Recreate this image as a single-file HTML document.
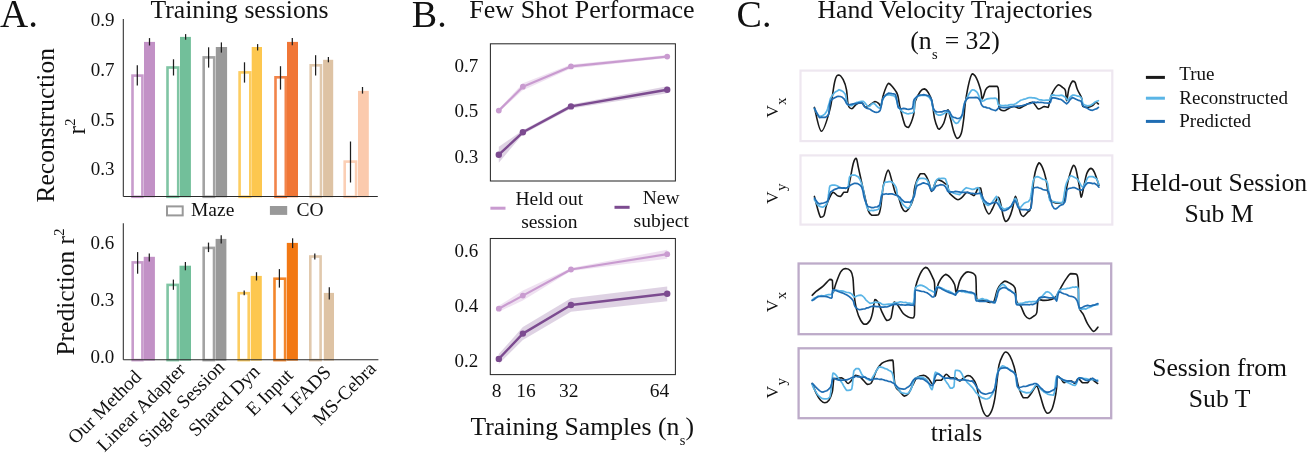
<!DOCTYPE html>
<html><head><meta charset="utf-8"><style>
html,body{margin:0;padding:0;background:#fff;width:1309px;height:454px;overflow:hidden}
svg{display:block;font-family:"Liberation Serif", serif;will-change:transform}
</style></head><body>
<svg width="1309" height="454" viewBox="0 0 1309 454">
<rect width="1309" height="454" fill="#fff"/>
<text x="0.10" y="26.70" font-size="39" text-anchor="start" fill="#111" >A.</text>
<text x="239.50" y="18.20" font-size="25.7" text-anchor="middle" fill="#111" >Training sessions</text>
<line x1="123.3" y1="19.1" x2="123.3" y2="196.5" stroke="#2a2a2a" stroke-width="1.05"/>
<text x="102.60" y="25.60" font-size="19" text-anchor="middle" fill="#111" >0.9</text>
<text x="102.60" y="75.50" font-size="19" text-anchor="middle" fill="#111" >0.7</text>
<text x="102.60" y="126.10" font-size="19" text-anchor="middle" fill="#111" >0.5</text>
<text x="102.60" y="174.80" font-size="19" text-anchor="middle" fill="#111" >0.3</text>
<rect x="132.50" y="75.60" width="9.90" height="121.20" fill="#fff" stroke="#c89ccc" stroke-width="2.6"/>
<rect x="167.50" y="67.50" width="10.70" height="129.30" fill="#fff" stroke="#80c5a4" stroke-width="2.6"/>
<rect x="203.70" y="57.40" width="10.50" height="139.40" fill="#fff" stroke="#a3a3a3" stroke-width="2.6"/>
<rect x="239.60" y="72.40" width="10.70" height="124.40" fill="#fff" stroke="#fdcd61" stroke-width="2.6"/>
<rect x="275.50" y="77.30" width="10.30" height="119.50" fill="#fff" stroke="#f2844a" stroke-width="2.6"/>
<rect x="310.70" y="65.30" width="10.30" height="131.50" fill="#fff" stroke="#e1c9ad" stroke-width="2.6"/>
<rect x="344.70" y="161.60" width="11.40" height="35.20" fill="#fff" stroke="#fbcfb5" stroke-width="2.6"/>
<rect x="144.00" y="41.90" width="11.00" height="155.40" fill="#c291c6"/>
<rect x="180.00" y="36.90" width="10.90" height="160.40" fill="#72bf9a"/>
<rect x="215.80" y="47.00" width="11.30" height="150.30" fill="#999999"/>
<rect x="251.70" y="47.00" width="10.30" height="150.30" fill="#fdc74f"/>
<rect x="287.00" y="41.90" width="11.00" height="155.40" fill="#f07636"/>
<rect x="323.10" y="59.80" width="10.10" height="137.50" fill="#dec3a4"/>
<rect x="358.00" y="90.90" width="10.80" height="106.40" fill="#fbcaad"/>
<line x1="137.3" y1="65.3" x2="137.3" y2="85.5" stroke="#1e1e1e" stroke-width="1.25"/>
<line x1="173.5" y1="59.3" x2="173.5" y2="75.5" stroke="#1e1e1e" stroke-width="1.25"/>
<line x1="208.6" y1="47.3" x2="208.6" y2="67.6" stroke="#1e1e1e" stroke-width="1.25"/>
<line x1="244.5" y1="62.3" x2="244.5" y2="82.6" stroke="#1e1e1e" stroke-width="1.25"/>
<line x1="280.5" y1="66.2" x2="280.5" y2="89.6" stroke="#1e1e1e" stroke-width="1.25"/>
<line x1="315.6" y1="55.2" x2="315.6" y2="75.5" stroke="#1e1e1e" stroke-width="1.25"/>
<line x1="350.5" y1="141.5" x2="350.5" y2="182.5" stroke="#1e1e1e" stroke-width="1.25"/>
<line x1="149.5" y1="38.1" x2="149.5" y2="45.5" stroke="#1e1e1e" stroke-width="1.25"/>
<line x1="185.6" y1="34.1" x2="185.6" y2="39.7" stroke="#1e1e1e" stroke-width="1.25"/>
<line x1="221.4" y1="42.4" x2="221.4" y2="52.6" stroke="#1e1e1e" stroke-width="1.25"/>
<line x1="257.6" y1="44.1" x2="257.6" y2="50.5" stroke="#1e1e1e" stroke-width="1.25"/>
<line x1="292.3" y1="38.1" x2="292.3" y2="45.2" stroke="#1e1e1e" stroke-width="1.25"/>
<line x1="328.4" y1="57.0" x2="328.4" y2="62.3" stroke="#1e1e1e" stroke-width="1.25"/>
<line x1="362.5" y1="87.0" x2="362.5" y2="93.6" stroke="#1e1e1e" stroke-width="1.25"/>
<line x1="123.3" y1="196.5" x2="377.8" y2="196.5" stroke="#2a2a2a" stroke-width="1.05"/>
<rect x="167" y="206.4" width="15.7" height="9" fill="none" stroke="#999" stroke-width="2"/>
<text x="191.00" y="216.00" font-size="19.5" text-anchor="start" fill="#111" >Maze</text>
<rect x="269.9" y="206" width="17.3" height="8.9" fill="#999"/>
<text x="296.50" y="216.00" font-size="19.5" text-anchor="start" fill="#111" >CO</text>
<g transform="translate(53.8,125.3) rotate(-90)"><text x="0" y="0" font-size="25.5" text-anchor="middle" fill="#111">Reconstruction</text></g>
<g transform="translate(84.7,126.6) rotate(-90)"><text x="0" y="0" font-size="25.5" text-anchor="middle" fill="#111">r<tspan font-size="15" dy="-10">2</tspan></text></g>
<line x1="123.3" y1="223.2" x2="123.3" y2="359.8" stroke="#2a2a2a" stroke-width="1.05"/>
<text x="102.40" y="249.00" font-size="19" text-anchor="middle" fill="#111" >0.6</text>
<text x="102.40" y="306.00" font-size="19" text-anchor="middle" fill="#111" >0.3</text>
<text x="102.40" y="362.80" font-size="19" text-anchor="middle" fill="#111" >0.0</text>
<rect x="132.70" y="262.40" width="9.70" height="97.70" fill="#fff" stroke="#c89ccc" stroke-width="2.6"/>
<rect x="167.60" y="284.90" width="10.30" height="75.20" fill="#fff" stroke="#80c5a4" stroke-width="2.6"/>
<rect x="203.70" y="247.90" width="10.30" height="112.20" fill="#fff" stroke="#a3a3a3" stroke-width="2.6"/>
<rect x="238.70" y="293.20" width="10.00" height="66.90" fill="#fff" stroke="#fdcd61" stroke-width="2.6"/>
<rect x="274.50" y="278.70" width="10.60" height="81.40" fill="#fff" stroke="#f3862b" stroke-width="2.6"/>
<rect x="310.30" y="256.50" width="10.30" height="103.60" fill="#fff" stroke="#e1c9ad" stroke-width="2.6"/>
<rect x="143.70" y="256.80" width="11.20" height="103.80" fill="#c291c6"/>
<rect x="179.50" y="265.70" width="11.50" height="94.90" fill="#72bf9a"/>
<rect x="215.60" y="238.90" width="10.80" height="121.70" fill="#999999"/>
<rect x="250.70" y="275.90" width="11.10" height="84.70" fill="#fdc74f"/>
<rect x="286.80" y="242.90" width="11.10" height="117.70" fill="#f27813"/>
<rect x="323.80" y="292.90" width="10.20" height="67.70" fill="#dec3a4"/>
<line x1="137.6" y1="252.1" x2="137.6" y2="273.7" stroke="#1e1e1e" stroke-width="1.25"/>
<line x1="173.4" y1="279.6" x2="173.4" y2="289.8" stroke="#1e1e1e" stroke-width="1.25"/>
<line x1="208.5" y1="242.6" x2="208.5" y2="252.1" stroke="#1e1e1e" stroke-width="1.25"/>
<line x1="244.2" y1="290.4" x2="244.2" y2="295.3" stroke="#1e1e1e" stroke-width="1.25"/>
<line x1="279.4" y1="269.1" x2="279.4" y2="287.6" stroke="#1e1e1e" stroke-width="1.25"/>
<line x1="314.8" y1="253.4" x2="314.8" y2="259.5" stroke="#1e1e1e" stroke-width="1.25"/>
<line x1="149.3" y1="253.4" x2="149.3" y2="261.4" stroke="#1e1e1e" stroke-width="1.25"/>
<line x1="185.4" y1="262.0" x2="185.4" y2="270.3" stroke="#1e1e1e" stroke-width="1.25"/>
<line x1="221.2" y1="235.2" x2="221.2" y2="243.5" stroke="#1e1e1e" stroke-width="1.25"/>
<line x1="256.5" y1="272.2" x2="256.5" y2="280.5" stroke="#1e1e1e" stroke-width="1.25"/>
<line x1="292.6" y1="238.3" x2="292.6" y2="248.1" stroke="#1e1e1e" stroke-width="1.25"/>
<line x1="329.3" y1="287.3" x2="329.3" y2="299.6" stroke="#1e1e1e" stroke-width="1.25"/>
<line x1="123.3" y1="359.8" x2="378.4" y2="359.8" stroke="#2a2a2a" stroke-width="1.05"/>
<g transform="translate(73.9,292) rotate(-90)"><text x="0" y="0" font-size="25.5" text-anchor="middle" fill="#111">Prediction r<tspan font-size="15" dy="-10">2</tspan></text></g>
<g transform="translate(142.50,378.00) rotate(-45)"><text x="0" y="0" font-size="19.3" text-anchor="end" fill="#111">Our Method</text></g>
<g transform="translate(186.60,370.70) rotate(-45)"><text x="0" y="0" font-size="19.3" text-anchor="end" fill="#111">Linear Adapter</text></g>
<g transform="translate(225.60,368.40) rotate(-45)"><text x="0" y="0" font-size="19.3" text-anchor="end" fill="#111">Single Session</text></g>
<g transform="translate(260.80,372.80) rotate(-45)"><text x="0" y="0" font-size="19.3" text-anchor="end" fill="#111">Shared Dyn</text></g>
<g transform="translate(294.10,376.40) rotate(-45)"><text x="0" y="0" font-size="19.3" text-anchor="end" fill="#111">E Input</text></g>
<g transform="translate(332.20,373.50) rotate(-45)"><text x="0" y="0" font-size="19.3" text-anchor="end" fill="#111">LFADS</text></g>
<g transform="translate(377.00,369.70) rotate(-45)"><text x="0" y="0" font-size="19.3" text-anchor="end" fill="#111">MS-Cebra</text></g>
<text x="411.80" y="26.50" font-size="38" text-anchor="start" fill="#111" >B.</text>
<text x="582.00" y="18.20" font-size="26" text-anchor="middle" fill="#111" >Few Shot Performace</text>
<polygon points="498.80,109.10 522.86,83.20 570.97,64.40 667.20,55.10 667.20,58.10 570.97,68.40 522.86,90.20 498.80,112.10" fill="#c99bd0" opacity="0.3"/>
<polygon points="498.80,146.70 522.86,130.30 570.97,104.40 667.20,86.30 667.20,93.30 570.97,108.40 522.86,134.30 498.80,162.70" fill="#7c4b90" opacity="0.25"/>
<polyline points="498.80,110.60 522.86,86.70 570.97,66.40 667.20,56.60" fill="none" stroke="#c99bd0" stroke-width="2.2" stroke-linejoin="round"/>
<circle cx="498.80" cy="110.60" r="2.9" fill="#c99bd0"/>
<circle cx="522.86" cy="86.70" r="2.9" fill="#c99bd0"/>
<circle cx="570.97" cy="66.40" r="2.9" fill="#c99bd0"/>
<circle cx="667.20" cy="56.60" r="2.9" fill="#c99bd0"/>
<polyline points="498.80,154.70 522.86,132.30 570.97,106.40 667.20,89.80" fill="none" stroke="#7c4b90" stroke-width="2.4" stroke-linejoin="round"/>
<circle cx="498.80" cy="154.70" r="3.2" fill="#7c4b90"/>
<circle cx="522.86" cy="132.30" r="3.2" fill="#7c4b90"/>
<circle cx="570.97" cy="106.40" r="3.2" fill="#7c4b90"/>
<circle cx="667.20" cy="89.80" r="3.2" fill="#7c4b90"/>
<rect x="490.4" y="43.8" width="185.0" height="137.2" fill="none" stroke="#2a2a2a" stroke-width="1.05"/>
<text x="466.40" y="71.70" font-size="19" text-anchor="middle" fill="#111" >0.7</text>
<text x="466.40" y="117.00" font-size="19" text-anchor="middle" fill="#111" >0.5</text>
<text x="466.40" y="163.30" font-size="19" text-anchor="middle" fill="#111" >0.3</text>
<polygon points="498.80,305.70 522.86,290.60 570.97,268.00 667.20,249.70 667.20,258.70 570.97,271.00 522.86,300.60 498.80,311.70" fill="#c99bd0" opacity="0.3"/>
<polygon points="498.80,353.90 522.86,327.10 570.97,298.20 667.20,286.40 667.20,301.20 570.97,311.80 522.86,340.10 498.80,363.90" fill="#7c4b90" opacity="0.25"/>
<polyline points="498.80,308.70 522.86,295.60 570.97,269.50 667.20,254.20" fill="none" stroke="#c99bd0" stroke-width="2.2" stroke-linejoin="round"/>
<circle cx="498.80" cy="308.70" r="2.9" fill="#c99bd0"/>
<circle cx="522.86" cy="295.60" r="2.9" fill="#c99bd0"/>
<circle cx="570.97" cy="269.50" r="2.9" fill="#c99bd0"/>
<circle cx="667.20" cy="254.20" r="2.9" fill="#c99bd0"/>
<polyline points="498.80,358.90 522.86,333.60 570.97,305.00 667.20,293.80" fill="none" stroke="#7c4b90" stroke-width="2.4" stroke-linejoin="round"/>
<circle cx="498.80" cy="358.90" r="3.2" fill="#7c4b90"/>
<circle cx="522.86" cy="333.60" r="3.2" fill="#7c4b90"/>
<circle cx="570.97" cy="305.00" r="3.2" fill="#7c4b90"/>
<circle cx="667.20" cy="293.80" r="3.2" fill="#7c4b90"/>
<rect x="490.3" y="238.5" width="185.09999999999997" height="136.10000000000002" fill="none" stroke="#2a2a2a" stroke-width="1.05"/>
<text x="466.40" y="256.80" font-size="19" text-anchor="middle" fill="#111" >0.6</text>
<text x="466.40" y="311.70" font-size="19" text-anchor="middle" fill="#111" >0.4</text>
<text x="466.40" y="366.60" font-size="19" text-anchor="middle" fill="#111" >0.2</text>
<line x1="490.4" y1="208.2" x2="505.5" y2="208.2" stroke="#c99bd0" stroke-width="3"/>
<line x1="614.5" y1="207.3" x2="629.6" y2="207.3" stroke="#7c4b90" stroke-width="3"/>
<text x="549.30" y="205.20" font-size="19.5" text-anchor="middle" fill="#111" >Held out</text>
<text x="549.30" y="227.90" font-size="19.5" text-anchor="middle" fill="#111" >session</text>
<text x="661.20" y="203.50" font-size="19.5" text-anchor="middle" fill="#111" >New</text>
<text x="661.20" y="227.00" font-size="19.5" text-anchor="middle" fill="#111" >subject</text>
<text x="496.50" y="396.80" font-size="19.5" text-anchor="middle" fill="#111" >8</text>
<text x="526.00" y="396.80" font-size="19.5" text-anchor="middle" fill="#111" >16</text>
<text x="568.80" y="396.80" font-size="19.5" text-anchor="middle" fill="#111" >32</text>
<text x="659.50" y="396.80" font-size="19.5" text-anchor="middle" fill="#111" >64</text>
<text x="470.5" y="435.4" font-size="25.7" fill="#111">Training Samples (n<tspan font-size="14.5" dy="9.5" dx="0.5">s</tspan><tspan dy="-9.5" dx="0">)</tspan></text>
<text x="736.60" y="26.70" font-size="38" text-anchor="start" fill="#111" >C.</text>
<text x="955.00" y="18.20" font-size="25.7" text-anchor="middle" fill="#111" >Hand Velocity Trajectories</text>
<text x="955" y="49.2" font-size="25.7" text-anchor="middle" fill="#111">(n<tspan font-size="14.5" dy="9.5" dx="0.5">s</tspan><tspan dy="-9.5" dx="0.5"> = 32)</tspan></text>
<rect x="800.5" y="70.6" width="311.8" height="70.5" fill="none" stroke="#eee7f0" stroke-width="2.2"/>
<rect x="800.5" y="155.4" width="311.8" height="69.2" fill="none" stroke="#eee7f0" stroke-width="2.2"/>
<rect x="798.6" y="263.5" width="312.6" height="70.7" fill="none" stroke="#bdabc9" stroke-width="2.3"/>
<rect x="798.6" y="348.3" width="312.6" height="69.9" fill="none" stroke="#bdabc9" stroke-width="2.3"/>
<g transform="translate(777.9,117.8) rotate(-90)"><text x="0" y="0" font-size="17.5" fill="#111">V<tspan font-size="15" dy="8.5" dx="0.2">x</tspan></text></g>
<g transform="translate(777.9,203.9) rotate(-90)"><text x="0" y="0" font-size="17.5" fill="#111">V<tspan font-size="15" dy="8.5" dx="0.2">y</tspan></text></g>
<g transform="translate(777.9,312.2) rotate(-90)"><text x="0" y="0" font-size="17.5" fill="#111">V<tspan font-size="15" dy="8.5" dx="0.2">x</tspan></text></g>
<g transform="translate(777.9,398.4) rotate(-90)"><text x="0" y="0" font-size="17.5" fill="#111">V<tspan font-size="15" dy="8.5" dx="0.2">y</tspan></text></g>
<line x1="1145.9" y1="77.4" x2="1164.9" y2="77.4" stroke="#1a1a1a" stroke-width="3"/>
<line x1="1145.9" y1="98.2" x2="1164.9" y2="98.2" stroke="#5ab5e6" stroke-width="3"/>
<line x1="1145.9" y1="121.4" x2="1164.9" y2="121.4" stroke="#1f6db3" stroke-width="3"/>
<text x="1179.30" y="79.70" font-size="19.0" text-anchor="start" fill="#111" >True</text>
<text x="1179.30" y="104.30" font-size="19.0" text-anchor="start" fill="#111" >Reconstructed</text>
<text x="1179.30" y="127.20" font-size="19.0" text-anchor="start" fill="#111" >Predicted</text>
<text x="1219.00" y="191.20" font-size="25.7" text-anchor="middle" fill="#111" >Held-out Session</text>
<text x="1219.00" y="222.00" font-size="25.7" text-anchor="middle" fill="#111" >Sub M</text>
<text x="1219.60" y="376.10" font-size="25.7" text-anchor="middle" fill="#111" >Session from</text>
<text x="1219.60" y="407.30" font-size="25.7" text-anchor="middle" fill="#111" >Sub T</text>
<text x="956.50" y="441.20" font-size="25.7" text-anchor="middle" fill="#111" >trials</text>
<path d="M814.4,107.4 C815.6,111.4 818.8,130.9 821.4,131.3 C824.0,131.3 827.6,118.2 829.8,109.9 C832.0,101.6 833.3,87.2 834.8,81.4 C836.2,75.6 837.1,75.3 838.5,75.0 C839.9,75.0 841.9,77.2 843.2,79.7 C844.5,82.2 845.7,85.6 846.5,89.8 C847.3,94.0 847.3,101.8 848.2,104.9 C849.1,108.1 850.5,108.7 851.9,108.7 C853.3,108.5 855.0,105.0 856.6,104.0 C858.2,103.0 860.1,102.8 861.6,102.8 C863.1,103.4 864.4,107.1 865.8,107.4 C867.2,107.4 868.5,105.9 870.0,104.9 C871.5,103.9 873.6,101.8 875.0,101.5 C876.4,101.5 877.4,102.4 878.4,103.2 C879.4,104.0 880.1,106.5 880.9,106.5 C881.7,105.1 882.1,98.6 883.4,94.8 C884.6,91.0 886.7,84.5 888.4,83.4 C890.1,83.4 892.0,86.2 893.5,88.1 C895.0,90.0 896.5,91.4 897.6,94.8 C898.7,98.2 898.9,103.0 900.2,108.2 C901.5,113.4 903.8,122.6 905.2,125.8 C906.6,127.5 907.1,127.5 908.5,127.5 C909.9,125.7 912.5,119.2 913.6,114.9 C914.7,110.6 914.1,105.4 915.2,101.5 C916.3,97.6 918.8,93.6 920.3,91.5 C921.8,89.4 923.0,88.9 924.4,88.9 C925.8,89.2 927.3,91.0 928.6,93.1 C929.9,95.2 931.0,97.3 932.0,101.5 C933.0,105.7 933.5,113.8 934.5,118.3 C935.5,122.8 937.0,126.5 937.8,128.3 C938.6,129.1 938.5,129.1 939.5,129.1 C940.5,128.3 942.3,126.5 943.7,123.3 C945.1,120.1 946.8,110.7 947.9,109.9 C949.0,109.9 949.4,114.7 950.4,118.3 C951.4,121.9 952.7,128.3 953.8,131.7 C954.9,135.0 955.9,138.1 957.1,138.4 C958.4,138.4 960.2,136.7 961.3,133.3 C962.4,130.0 963.1,123.6 963.8,118.3 C964.5,113.0 964.6,107.4 965.5,101.5 C966.4,95.6 967.8,87.7 968.9,83.1 C970.0,78.5 971.0,74.7 972.2,73.9 C973.5,73.9 975.0,75.4 976.4,78.1 C977.8,80.8 979.6,86.3 980.6,89.8 C981.6,93.3 981.5,99.0 982.3,99.0 C983.1,99.0 984.5,91.9 985.6,89.8 C986.7,87.7 987.0,87.0 989.0,86.4 C991.0,86.4 995.7,86.4 997.3,86.4 C998.7,87.5 998.4,89.6 998.7,93.1 C999.0,96.6 998.7,104.5 999.0,107.4 C999.9,110.3 1002.3,110.6 1004.0,110.7 C1005.7,110.7 1007.4,108.9 1009.1,108.2 C1010.8,107.5 1012.4,106.5 1014.1,106.5 C1015.8,106.5 1017.4,108.2 1019.1,108.2 C1020.8,108.1 1022.0,106.7 1024.2,105.7 C1026.4,104.7 1030.1,102.3 1032.5,102.3 C1034.9,102.8 1036.4,108.3 1038.4,109.0 C1040.4,109.0 1042.7,106.8 1044.3,106.5 C1045.9,106.5 1047.0,107.4 1048.2,107.4 C1049.4,105.5 1049.8,98.6 1051.5,94.8 C1053.2,91.0 1056.4,86.0 1058.2,84.8 C1060.0,84.8 1061.2,86.3 1062.4,87.3 C1063.6,88.3 1064.7,88.4 1065.4,90.6 C1066.1,92.8 1066.0,100.7 1066.6,100.7 C1067.2,100.3 1068.1,91.4 1069.1,88.1 C1070.1,84.8 1071.5,82.1 1072.5,81.1 C1073.5,81.1 1074.2,81.1 1075.0,82.2 C1075.8,83.7 1076.4,87.1 1077.5,89.8 C1078.6,92.5 1080.8,95.4 1081.7,98.2 C1082.6,101.0 1081.9,105.0 1082.9,106.5 C1083.9,107.4 1086.0,107.4 1087.6,107.4 C1089.2,107.3 1091.2,106.6 1092.6,105.7 C1094.0,104.8 1094.9,102.6 1095.9,102.3 C1096.9,102.3 1098.0,103.7 1098.4,104.0" fill="none" stroke="#1a1a1a" stroke-width="1.6" stroke-linejoin="round" stroke-linecap="round"/>
<path d="M814.4,109.0 L815.3,110.2 L816.6,113.0 L818.2,114.9 L819.7,116.4 L821.3,116.2 L823.1,115.2 L824.8,114.1 L826.4,111.8 L827.0,110.7 L827.6,108.8 L828.1,106.9 L828.6,105.1 L829.2,103.6 L829.7,101.2 L830.2,99.2 L830.8,97.8 L831.5,96.8 L833.2,94.2 L835.2,92.0 L837.2,91.0 L839.0,89.7 L841.2,90.6 L843.2,91.8 L844.9,93.7 L845.5,94.9 L845.9,96.7 L846.3,99.1 L846.6,100.8 L846.9,102.6 L847.4,104.1 L849.2,105.4 L851.6,105.7 L853.1,104.8 L854.9,103.5 L856.7,102.4 L858.3,102.1 L860.1,101.6 L861.7,101.3 L863.3,101.4 L865.0,102.9 L866.6,105.0 L868.3,106.6 L870.0,105.9 L871.8,104.0 L873.3,103.2 L875.1,104.2 L876.7,106.1 L878.4,107.7 L880.0,108.3 L880.5,107.6 L881.1,105.5 L881.6,103.5 L882.1,101.7 L882.7,99.4 L883.4,98.1 L884.9,95.9 L886.5,95.2 L888.4,94.9 L890.0,95.0 L891.9,95.4 L893.6,95.6 L895.1,96.7 L895.8,98.0 L896.4,99.6 L896.9,101.3 L897.4,103.5 L897.9,105.6 L898.5,106.8 L900.0,109.3 L901.6,110.8 L903.5,112.5 L905.1,113.0 L906.9,113.6 L908.7,113.8 L910.2,113.4 L912.4,113.0 L913.9,111.8 L914.2,110.0 L914.3,108.5 L914.4,106.4 L914.5,104.3 L914.6,102.2 L914.8,101.0 L915.2,99.3 L916.6,97.2 L918.3,96.0 L920.3,95.7 L921.9,95.3 L923.7,95.4 L925.5,95.5 L927.0,95.9 L929.3,97.5 L931.1,100.4 L931.6,101.4 L932.0,102.9 L932.3,104.6 L932.7,106.9 L933.1,109.0 L933.7,109.9 L935.0,112.2 L936.6,114.2 L938.7,115.2 L940.4,115.1 L942.3,114.4 L944.4,113.3 L946.3,112.1 L947.9,112.0 L949.7,113.3 L950.9,115.9 L952.1,118.6 L953.5,120.8 L954.8,122.6 L956.3,123.5 L958.0,122.8 L959.7,120.2 L961.3,117.6 L961.8,116.4 L962.2,115.0 L962.5,113.2 L962.8,111.0 L963.2,108.8 L963.6,106.5 L964.1,104.9 L964.7,102.8 L965.6,100.5 L966.6,98.4 L967.8,96.2 L968.9,94.3 L970.1,92.3 L971.2,90.7 L972.2,89.8 L974.0,90.0 L975.6,91.0 L977.2,92.3 L978.2,94.4 L979.2,96.6 L980.1,98.4 L981.2,100.1 L982.3,101.1 L983.8,100.7 L985.5,99.5 L987.2,98.9 L989.0,98.6 L990.9,98.4 L993.0,98.4 L995.0,98.2 L996.5,98.5 L997.3,100.0 L997.7,101.9 L998.1,104.4 L999.0,105.4 L1000.3,105.1 L1001.9,105.7 L1003.8,105.7 L1005.6,105.4 L1007.4,105.6 L1009.1,104.9 L1010.8,104.7 L1012.4,104.7 L1014.1,104.3 L1015.8,103.7 L1017.5,102.5 L1019.1,101.4 L1020.7,100.2 L1022.4,99.7 L1024.2,99.1 L1025.8,98.8 L1027.5,98.1 L1029.3,97.5 L1031.1,97.7 L1032.7,97.9 L1034.2,97.9 L1036.1,98.3 L1037.7,99.1 L1039.2,99.8 L1040.9,99.9 L1042.6,100.2 L1044.4,100.3 L1046.3,100.1 L1048.0,100.0 L1049.3,100.1 L1050.3,98.4 L1050.7,96.4 L1051.8,95.1 L1053.2,94.9 L1055.1,95.3 L1057.2,95.5 L1059.2,95.6 L1060.8,95.2 L1062.9,95.7 L1064.5,96.7 L1065.8,97.8 L1067.5,100.2 L1068.8,98.8 L1070.5,96.7 L1072.5,95.2 L1074.1,95.2 L1075.9,95.5 L1077.8,96.2 L1079.5,96.3 L1080.9,97.4 L1081.9,99.2 L1082.3,101.2 L1082.7,103.1 L1083.4,104.3 L1085.1,105.0 L1087.2,105.8 L1089.2,105.7 L1091.0,105.1 L1092.7,104.1 L1094.3,102.6 L1096.7,101.3 L1098.4,100.7" fill="none" stroke="#5ab5e6" stroke-width="1.7" stroke-linejoin="round" stroke-linecap="round"/>
<path d="M814.4,108.2 L815.1,109.5 L816.0,111.3 L817.1,113.5 L818.4,116.2 L819.7,117.7 L821.3,117.2 L823.1,117.4 L825.0,117.4 L826.7,116.6 L828.1,115.1 L828.7,113.8 L829.0,111.7 L829.2,109.4 L829.4,108.0 L829.5,106.0 L829.8,104.0 L830.1,102.5 L830.6,100.9 L832.2,99.3 L834.2,98.1 L836.3,96.9 L838.2,96.3 L840.4,96.5 L842.3,97.3 L844.0,98.8 L845.2,100.7 L846.2,103.0 L847.4,104.4 L849.1,104.8 L851.0,104.3 L853.2,103.9 L854.8,103.7 L856.6,103.6 L858.5,102.9 L860.2,102.9 L861.6,102.6 L863.0,103.8 L863.8,105.7 L865.0,107.1 L866.5,108.1 L868.4,108.8 L870.2,109.3 L871.7,110.5 L873.5,111.5 L875.0,112.1 L876.6,112.4 L878.4,112.0 L880.0,110.6 L880.5,109.3 L880.9,107.6 L881.3,105.8 L881.6,103.3 L882.0,101.4 L882.6,99.5 L883.8,97.3 L885.2,95.7 L886.8,94.2 L888.4,93.2 L890.1,93.4 L891.9,93.7 L893.6,93.8 L895.1,94.3 L895.7,95.3 L896.1,96.9 L896.5,98.9 L896.9,100.8 L897.3,102.8 L897.6,104.7 L898.0,106.7 L898.5,107.8 L899.9,108.5 L901.5,108.8 L903.5,108.4 L905.1,108.6 L906.9,109.1 L908.8,109.4 L910.5,109.0 L911.9,108.7 L912.6,107.7 L913.0,105.7 L913.3,103.8 L913.5,101.6 L913.9,100.2 L914.4,99.1 L916.1,97.4 L918.1,95.6 L920.3,95.0 L922.0,95.0 L923.8,94.6 L925.5,95.0 L927.0,95.4 L929.3,95.9 L931.1,98.7 L931.6,99.8 L932.0,101.6 L932.3,104.1 L932.7,106.3 L933.1,107.6 L933.7,109.0 L935.0,110.9 L936.6,111.8 L938.7,112.0 L940.4,111.8 L942.3,111.8 L944.4,110.8 L946.3,110.7 L947.9,110.5 L949.6,111.7 L950.8,114.2 L952.1,116.4 L953.7,117.5 L955.4,117.7 L957.1,118.5 L958.9,118.3 L960.6,117.7 L962.2,114.9 L962.7,113.4 L963.1,111.3 L963.4,109.8 L963.8,107.6 L964.1,105.2 L964.5,103.4 L964.9,102.2 L965.5,101.1 L966.9,99.0 L968.6,97.7 L970.4,97.7 L972.2,97.5 L974.0,97.7 L975.8,97.4 L977.5,97.6 L978.9,98.9 L979.9,100.3 L980.6,101.8 L981.3,104.3 L982.3,105.9 L983.7,107.0 L985.4,107.1 L987.2,107.9 L989.0,108.0 L990.8,109.1 L992.6,109.8 L994.3,110.3 L995.7,110.7 L997.2,109.5 L999.0,107.4 L1000.4,107.2 L1002.0,107.5 L1003.8,107.6 L1005.6,107.6 L1007.4,107.6 L1009.1,107.2 L1010.8,106.9 L1012.4,106.6 L1014.1,106.3 L1015.8,106.4 L1017.5,106.1 L1019.1,106.1 L1020.7,105.8 L1022.4,105.6 L1024.2,105.0 L1025.8,104.6 L1027.5,103.8 L1029.3,103.7 L1031.1,103.2 L1032.7,102.3 L1034.2,102.1 L1036.1,102.6 L1037.7,102.1 L1039.2,102.5 L1040.9,102.3 L1042.6,102.5 L1044.4,103.0 L1046.2,103.0 L1047.9,103.2 L1049.3,103.4 L1050.6,102.0 L1051.3,99.1 L1052.6,97.7 L1054.0,97.9 L1055.6,98.2 L1057.5,98.6 L1059.2,99.1 L1060.8,99.4 L1062.9,100.8 L1064.7,102.4 L1066.6,103.8 L1068.5,102.1 L1070.3,99.3 L1072.5,97.5 L1074.1,98.3 L1076.0,99.2 L1077.8,100.1 L1079.6,100.6 L1080.9,101.3 L1081.9,102.8 L1082.3,104.7 L1083.4,106.1 L1084.9,107.1 L1086.8,107.9 L1088.8,109.2 L1090.9,110.2 L1092.6,110.3 L1095.0,109.3 L1097.0,108.6 L1098.4,107.4" fill="none" stroke="#1f6db3" stroke-width="1.7" stroke-linejoin="round" stroke-linecap="round"/>
<path d="M814.4,196.4 C814.9,198.2 816.2,203.8 817.2,207.3 C818.2,210.8 819.5,215.9 820.6,217.3 C821.7,217.3 822.9,217.3 823.9,215.7 C824.9,213.8 825.4,208.7 826.4,205.6 C827.4,202.5 828.7,199.4 829.8,197.2 C830.9,195.0 831.9,192.5 833.1,192.2 C834.4,192.2 836.0,194.9 837.3,195.6 C838.6,196.3 839.6,196.4 840.7,196.4 C841.8,195.8 842.9,192.9 844.0,192.2 C845.1,192.2 846.4,192.2 847.4,192.2 C848.4,190.2 848.9,185.2 849.9,180.5 C850.9,175.8 852.2,167.4 853.2,163.7 C854.2,160.0 855.4,158.4 856.2,158.4 C857.1,159.0 857.4,163.1 858.3,167.1 C859.2,171.1 860.5,177.2 861.6,182.2 C862.7,187.2 863.9,192.5 865.0,197.2 C866.1,201.9 867.2,207.6 868.3,210.6 C869.4,213.6 870.0,214.6 871.7,215.3 C873.4,215.3 876.9,215.3 878.4,214.8 C879.9,213.2 880.1,210.5 880.9,205.6 C881.7,200.7 882.2,191.4 883.4,185.5 C884.6,179.6 886.7,170.9 888.1,170.1 C889.5,170.1 890.6,176.8 891.8,180.5 C893.0,184.2 894.0,189.4 895.1,192.2 C896.2,195.0 897.4,194.7 898.5,197.2 C899.6,199.7 900.7,204.9 901.8,207.3 C902.9,209.7 904.1,211.2 905.2,211.5 C906.3,211.5 907.2,210.8 908.5,209.0 C909.8,207.2 911.6,204.5 912.7,200.6 C913.8,196.7 913.9,190.0 915.2,185.5 C916.5,181.0 918.8,175.8 920.3,173.8 C921.8,173.8 923.0,173.8 924.4,173.8 C925.8,175.1 927.4,178.4 928.6,181.3 C929.8,184.2 930.5,191.1 931.6,191.4 C932.7,191.4 934.2,185.0 935.3,183.0 C936.3,181.0 936.8,179.9 937.9,179.6 C939.0,179.6 940.8,180.6 942.0,181.3 C943.2,182.0 944.4,183.1 945.4,183.8 C946.4,184.5 947.3,184.1 947.9,185.5 C948.5,186.9 947.9,190.2 948.8,192.2 C949.8,194.1 952.3,195.9 953.8,197.2 C955.3,198.4 956.6,199.7 958.0,199.7 C959.4,199.7 960.7,198.4 962.2,197.2 C963.7,195.9 965.2,192.5 967.2,192.2 C969.2,192.2 972.1,195.6 973.9,195.6 C975.7,194.9 977.0,189.3 978.1,188.0 C979.2,188.0 979.8,188.0 980.6,188.0 C981.4,190.1 982.3,197.1 983.1,200.6 C983.9,204.1 984.6,206.8 985.6,209.0 C986.6,211.2 987.9,214.0 989.0,214.0 C990.1,214.0 990.8,211.8 992.3,209.0 C993.8,206.2 996.8,198.0 998.2,197.2 C999.6,197.2 999.9,200.8 1000.7,203.9 C1001.5,207.0 1002.4,212.8 1003.2,215.7 C1004.0,218.6 1004.7,221.1 1005.7,221.5 C1006.7,221.5 1008.0,220.3 1009.1,218.2 C1010.2,216.1 1011.4,212.6 1012.4,209.0 C1013.4,205.4 1014.4,197.0 1015.4,196.4 C1016.4,196.4 1017.4,202.7 1018.3,205.6 C1019.2,208.5 1020.0,212.2 1020.8,214.0 C1021.6,215.8 1022.2,216.5 1023.3,216.5 C1024.4,216.2 1026.2,213.8 1027.5,212.3 C1028.8,210.8 1029.8,212.3 1030.9,207.3 C1032.0,201.4 1032.9,184.5 1034.2,177.1 C1035.5,169.7 1037.5,164.4 1038.9,162.9 C1040.3,162.9 1041.4,165.2 1042.6,167.9 C1043.8,170.6 1044.8,173.9 1045.9,178.8 C1047.0,183.7 1048.0,193.3 1049.3,197.2 C1050.6,201.1 1051.9,201.3 1053.5,202.3 C1055.1,203.1 1057.3,203.1 1059.1,203.1 C1060.9,202.9 1063.0,203.1 1064.1,201.4 C1065.2,199.6 1065.0,196.2 1065.8,192.2 C1066.6,188.1 1067.8,181.6 1069.1,177.1 C1070.3,172.6 1072.2,166.8 1073.3,165.4 C1074.4,165.4 1074.8,165.5 1075.8,168.8 C1076.8,172.2 1078.3,180.8 1079.2,185.5 C1080.1,190.2 1080.5,196.6 1081.2,197.2 C1081.9,197.2 1082.5,192.7 1083.4,188.8 C1084.3,184.9 1085.5,177.2 1086.7,173.8 C1088.0,170.4 1089.6,168.7 1090.9,168.4 C1092.2,168.4 1093.2,169.9 1094.3,172.1 C1095.4,174.2 1096.8,179.1 1097.6,181.3 C1098.4,183.5 1098.7,184.8 1098.9,185.5" fill="none" stroke="#1a1a1a" stroke-width="1.6" stroke-linejoin="round" stroke-linecap="round"/>
<path d="M814.4,199.7 L815.3,200.9 L816.6,203.3 L818.0,205.3 L819.6,206.4 L821.4,206.8 L823.1,207.1 L825.3,205.8 L827.3,202.5 L827.6,201.1 L827.9,199.7 L828.2,197.6 L828.4,195.4 L828.7,193.4 L828.9,191.3 L829.2,189.7 L829.4,188.0 L829.7,186.8 L830.1,185.7 L832.2,185.1 L834.8,185.2 L836.4,185.5 L838.1,186.3 L839.8,187.7 L841.5,187.9 L843.7,188.2 L845.7,188.2 L847.4,187.7 L847.9,187.0 L848.3,185.7 L848.6,183.7 L848.8,181.7 L849.1,179.8 L849.4,177.5 L849.9,176.3 L851.4,175.1 L853.1,175.0 L854.9,175.1 L856.6,175.9 L858.4,177.0 L859.9,179.4 L860.5,180.6 L861.0,182.0 L861.5,183.2 L861.9,184.5 L862.4,186.1 L862.8,188.1 L863.3,189.9 L863.7,192.0 L864.0,193.8 L864.4,195.8 L864.8,197.7 L865.1,199.7 L865.5,201.3 L865.9,202.5 L866.2,204.4 L866.6,205.9 L867.5,208.4 L868.5,209.9 L870.0,210.8 L871.4,210.3 L873.2,210.6 L875.2,210.2 L877.0,209.7 L878.4,209.3 L879.0,208.6 L879.5,206.9 L879.9,205.5 L880.2,204.0 L880.5,201.8 L880.8,199.5 L881.1,197.5 L881.4,195.7 L881.7,194.2 L882.2,192.2 L882.6,190.2 L883.0,187.8 L883.5,185.7 L884.0,184.1 L884.5,183.2 L885.1,182.0 L886.9,182.1 L888.9,181.7 L890.9,181.5 L892.8,182.8 L894.6,184.9 L896.0,187.2 L896.5,188.9 L896.8,190.3 L896.9,192.2 L897.2,193.9 L897.6,195.5 L898.4,197.0 L899.5,199.2 L900.6,200.5 L901.8,202.6 L903.5,205.2 L905.3,206.7 L906.9,208.0 L908.6,208.0 L910.2,206.2 L910.8,204.7 L911.4,202.9 L912.0,201.0 L912.7,199.7 L913.3,197.5 L913.9,195.7 L914.4,193.6 L914.8,191.9 L915.2,190.4 L915.5,187.9 L915.8,186.3 L916.1,184.4 L916.5,183.0 L916.9,181.7 L918.8,178.7 L921.1,178.4 L923.0,178.4 L925.0,178.6 L927.0,179.9 L927.9,181.6 L928.8,183.7 L929.7,185.8 L930.5,187.7 L931.3,189.3 L932.0,190.1 L932.8,189.9 L933.4,187.8 L934.1,186.0 L934.7,184.2 L935.3,182.0 L936.8,179.8 L938.7,178.4 L940.2,178.6 L942.0,178.3 L943.9,178.3 L945.4,178.7 L946.0,180.4 L946.6,181.9 L947.0,183.6 L947.4,185.5 L947.8,187.3 L948.3,188.7 L948.8,189.8 L950.3,191.9 L952.0,192.3 L953.8,193.2 L955.6,193.7 L957.6,194.2 L959.6,194.6 L961.2,192.9 L962.9,190.6 L964.7,188.9 L966.3,187.7 L968.3,188.2 L970.3,188.8 L972.2,189.4 L974.2,189.2 L976.3,188.1 L978.1,187.7 L978.8,188.2 L979.4,190.1 L979.9,192.0 L980.5,194.3 L981.0,196.5 L981.6,198.1 L982.3,199.3 L984.2,202.6 L986.2,204.3 L988.1,205.4 L990.3,204.3 L992.3,202.0 L993.7,200.1 L995.1,198.0 L996.5,196.4 L997.2,197.4 L997.9,198.8 L998.7,200.9 L999.4,202.9 L1000.1,204.6 L1000.7,205.9 L1002.2,207.9 L1004.0,209.0 L1005.5,208.8 L1007.3,208.1 L1009.2,207.7 L1010.8,207.0 L1012.1,204.8 L1013.3,201.9 L1014.4,199.5 L1015.4,198.3 L1016.2,199.4 L1016.9,201.4 L1017.6,204.0 L1018.3,206.3 L1019.1,207.8 L1020.7,207.3 L1022.4,205.3 L1024.2,203.2 L1026.2,202.3 L1028.2,201.8 L1030.0,199.6 L1030.4,198.3 L1030.8,196.4 L1031.1,194.7 L1031.4,193.3 L1031.7,190.9 L1031.9,188.9 L1032.2,187.0 L1032.5,185.4 L1032.8,183.2 L1033.1,181.5 L1033.4,180.1 L1035.3,177.0 L1037.6,176.6 L1039.2,177.3 L1041.0,178.2 L1042.8,179.3 L1044.3,179.5 L1046.2,180.4 L1047.6,183.7 L1047.9,185.3 L1048.1,186.8 L1048.3,188.6 L1048.5,190.0 L1048.7,192.1 L1048.9,194.6 L1049.1,196.7 L1049.4,198.6 L1049.7,200.2 L1050.1,200.8 L1051.7,201.5 L1053.6,201.7 L1055.7,202.1 L1057.4,202.3 L1059.2,202.7 L1060.9,202.7 L1062.4,202.7 L1062.9,201.7 L1063.3,200.1 L1063.6,198.5 L1063.9,196.1 L1064.2,194.6 L1064.5,192.3 L1064.8,190.8 L1065.1,188.9 L1065.4,186.9 L1065.8,185.2 L1066.7,182.5 L1067.6,180.5 L1068.6,178.8 L1069.7,176.9 L1070.8,175.7 L1072.4,176.2 L1074.2,177.2 L1075.9,178.1 L1077.5,179.2 L1078.9,181.4 L1080.1,183.6 L1081.3,185.8 L1082.5,186.9 L1083.5,186.5 L1084.5,184.6 L1085.6,182.4 L1086.6,179.9 L1087.6,177.9 L1089.3,176.5 L1091.0,176.6 L1092.6,176.6 L1094.9,177.6 L1096.8,179.2 L1097.7,181.1 L1098.4,183.3 L1098.9,184.7" fill="none" stroke="#5ab5e6" stroke-width="1.7" stroke-linejoin="round" stroke-linecap="round"/>
<path d="M814.4,198.1 L815.7,199.9 L817.6,202.8 L819.7,203.9 L821.5,203.4 L823.6,203.0 L825.6,202.3 L827.3,201.4 L828.2,199.6 L828.7,198.1 L829.2,196.1 L829.7,194.0 L830.6,192.0 L832.2,191.0 L834.1,189.6 L836.2,188.9 L838.2,187.9 L840.1,187.7 L842.1,188.1 L844.0,187.9 L845.7,188.3 L847.6,187.5 L849.1,186.3 L850.7,185.1 L852.3,184.2 L854.0,183.4 L855.7,183.4 L857.7,183.6 L859.9,185.0 L861.6,186.9 L862.2,188.8 L862.6,189.9 L863.0,191.4 L863.3,193.0 L863.6,195.0 L864.1,197.2 L864.8,199.6 L865.6,201.8 L866.5,204.1 L867.4,205.9 L868.3,206.7 L869.9,207.0 L871.5,207.6 L873.3,207.7 L875.3,207.0 L877.4,206.8 L879.2,205.5 L879.9,204.0 L880.4,202.0 L880.8,199.6 L881.3,197.2 L881.8,195.4 L882.6,194.2 L884.2,194.3 L886.1,193.7 L888.1,194.2 L890.1,193.8 L892.0,193.9 L894.0,194.5 L895.8,195.2 L897.6,195.8 L899.7,197.1 L901.5,199.5 L903.5,201.2 L905.2,202.2 L907.0,202.1 L908.7,202.1 L910.2,202.5 L911.5,200.9 L912.6,199.3 L913.5,197.8 L914.4,195.9 L914.9,193.6 L915.3,191.2 L915.7,189.0 L916.2,187.8 L916.9,186.0 L918.3,185.0 L920.1,184.4 L921.9,183.4 L923.6,182.9 L925.5,183.5 L927.1,183.9 L928.6,184.7 L929.5,186.5 L930.3,188.5 L931.1,190.3 L932.0,190.8 L933.4,190.0 L934.9,187.8 L936.2,185.8 L938.7,185.3 L940.2,184.7 L942.0,184.8 L943.9,185.3 L945.4,186.6 L946.6,188.8 L947.4,190.8 L948.8,192.1 L950.1,192.0 L951.8,191.8 L953.5,192.0 L955.4,191.4 L957.1,191.6 L958.8,191.8 L960.5,192.1 L962.1,192.3 L963.8,192.4 L965.5,192.3 L967.2,192.4 L968.9,192.7 L970.7,193.4 L972.3,193.4 L973.9,193.5 L975.8,193.9 L977.6,193.6 L979.2,193.4 L980.6,193.2 L981.8,195.1 L982.7,197.3 L983.9,199.9 L985.4,201.5 L987.1,203.0 L988.9,203.6 L990.6,203.8 L992.6,203.0 L994.6,202.4 L996.5,202.3 L997.7,203.5 L998.8,205.2 L999.9,207.4 L1001.1,209.5 L1002.4,210.7 L1004.2,210.6 L1006.2,210.1 L1008.2,209.0 L1009.9,207.2 L1011.3,205.8 L1012.6,203.3 L1013.8,201.5 L1014.9,200.5 L1015.7,201.6 L1016.4,203.1 L1017.2,205.1 L1018.0,207.1 L1019.1,208.4 L1020.6,209.4 L1022.4,209.7 L1024.3,209.6 L1026.1,209.6 L1027.5,210.1 L1029.6,209.7 L1030.9,208.0 L1031.1,207.3 L1031.3,206.0 L1031.5,204.7 L1031.7,202.3 L1031.9,200.4 L1032.1,198.7 L1032.3,196.9 L1032.5,195.2 L1032.7,192.8 L1032.9,191.0 L1033.1,189.4 L1033.4,188.2 L1035.2,187.5 L1037.6,187.3 L1039.2,188.0 L1041.0,188.4 L1042.7,189.5 L1044.3,189.9 L1046.5,190.1 L1048.4,191.6 L1048.9,193.1 L1049.3,194.0 L1049.8,195.9 L1050.2,198.0 L1050.7,199.7 L1051.1,201.6 L1051.6,203.2 L1052.0,204.7 L1052.4,205.9 L1054.0,208.4 L1055.7,209.0 L1057.3,208.0 L1059.1,206.3 L1060.8,205.1 L1063.0,204.4 L1064.9,201.9 L1065.3,200.5 L1065.6,198.6 L1065.9,196.9 L1066.2,194.8 L1066.5,192.4 L1066.9,190.4 L1067.5,189.3 L1068.9,188.5 L1070.6,188.2 L1072.4,187.7 L1074.2,187.5 L1075.9,188.3 L1077.5,189.1 L1079.2,189.8 L1080.9,190.2 L1082.6,189.4 L1084.2,186.9 L1085.9,184.6 L1087.6,182.9 L1089.3,182.9 L1091.1,183.2 L1092.8,183.6 L1094.3,183.2 L1097.0,185.0 L1098.9,187.2" fill="none" stroke="#1f6db3" stroke-width="1.7" stroke-linejoin="round" stroke-linecap="round"/>
<path d="M812.2,295.3 C812.9,294.6 814.6,292.7 816.4,291.2 C818.2,289.7 820.9,288.1 823.1,286.1 C825.3,284.1 828.3,280.4 829.8,279.4 C831.3,279.4 831.8,279.4 832.3,280.3 C832.8,282.5 832.5,292.1 833.1,292.8 C833.7,292.8 834.3,288.0 835.6,284.5 C836.9,281.0 839.0,274.6 840.7,271.9 C842.4,269.2 844.0,268.6 845.7,268.5 C847.4,268.5 849.5,269.6 850.7,271.1 C851.9,272.7 852.3,273.9 852.9,277.8 C853.5,281.7 853.5,289.2 854.1,294.5 C854.7,299.8 855.5,305.3 856.6,309.6 C857.7,313.9 859.4,318.1 860.8,320.5 C862.2,322.9 863.5,324.3 865.0,324.3 C866.5,324.3 868.8,322.4 870.0,320.5 C871.2,318.6 871.7,316.4 872.5,312.9 C873.3,309.4 874.0,301.2 875.0,299.5 C876.0,299.5 877.3,300.9 878.4,302.9 C879.5,304.9 880.3,308.4 881.7,311.3 C883.1,314.2 885.3,319.4 886.8,320.5 C888.3,320.5 889.6,320.5 890.9,318.0 C892.1,314.9 893.0,304.0 894.3,302.0 C895.6,302.0 897.0,304.2 898.5,306.2 C900.0,308.2 901.8,312.0 903.5,313.8 C905.2,315.6 907.0,316.4 908.5,317.1 C910.0,317.8 911.7,318.0 912.7,318.0 C913.7,317.7 914.0,318.0 914.4,315.4 C914.8,310.6 914.4,296.5 915.2,289.5 C916.2,282.5 918.6,277.3 920.3,273.6 C922.0,269.9 923.9,268.1 925.3,267.4 C926.7,267.4 927.4,267.7 928.6,269.4 C929.9,271.1 931.8,275.6 932.8,277.8 C933.8,280.0 934.1,279.7 934.5,282.8 C934.9,285.9 934.6,296.2 935.3,296.2 C936.0,296.2 937.0,286.4 938.7,282.8 C940.4,279.2 943.5,275.2 945.4,274.4 C947.3,274.4 948.9,276.1 950.4,277.8 C951.9,279.5 953.6,282.0 954.6,284.5 C955.6,287.0 955.5,292.8 956.3,292.8 C957.1,292.2 958.4,284.2 959.6,281.1 C960.9,278.0 962.4,275.9 963.8,274.4 C965.2,272.9 966.0,271.9 968.0,271.9 C970.0,272.2 974.2,272.3 975.6,276.1 C976.4,279.9 976.1,290.6 976.4,294.5 C976.7,298.4 976.4,298.5 977.2,299.5 C978.5,300.4 981.8,299.9 983.9,300.4 C986.0,300.9 988.1,302.4 989.8,302.5 C991.5,302.5 992.7,302.5 994.0,301.2 C995.3,299.0 996.1,292.4 997.4,289.5 C998.6,286.6 1000.2,285.0 1001.5,283.6 C1002.8,282.2 1003.6,281.2 1004.9,281.1 C1006.2,281.1 1007.4,281.7 1009.1,282.8 C1010.8,283.9 1013.6,284.7 1014.9,287.8 C1016.1,290.9 1015.6,298.1 1016.6,301.2 C1017.6,304.3 1019.4,303.8 1020.8,306.2 C1022.2,308.6 1023.6,313.3 1025.0,315.4 C1026.4,317.5 1027.8,318.6 1029.2,318.8 C1030.6,318.8 1032.2,317.3 1033.4,316.3 C1034.7,315.3 1035.9,315.7 1036.7,312.9 C1037.5,310.1 1037.1,301.6 1038.4,299.5 C1039.7,299.5 1042.2,300.4 1044.3,300.4 C1046.4,300.4 1049.0,300.1 1050.9,299.5 C1052.8,298.9 1054.1,298.9 1055.7,297.0 C1057.3,295.1 1059.1,290.7 1060.8,287.8 C1062.5,284.9 1064.1,281.8 1065.8,279.4 C1067.5,277.0 1069.0,274.4 1070.8,273.6 C1072.6,273.6 1075.5,273.6 1076.7,274.4 C1078.0,275.9 1078.0,277.5 1078.3,282.8 C1078.6,288.1 1078.3,300.9 1078.8,306.2 C1079.7,311.5 1081.9,311.7 1083.4,314.6 C1084.9,317.5 1085.9,321.0 1087.6,323.8 C1089.3,326.6 1092.0,330.4 1093.4,331.4 C1094.8,331.4 1095.2,330.4 1095.9,329.7 C1096.7,329.0 1097.6,327.6 1097.9,327.2" fill="none" stroke="#1a1a1a" stroke-width="1.6" stroke-linejoin="round" stroke-linecap="round"/>
<path d="M812.2,300.4 L813.7,298.6 L815.8,297.5 L818.0,296.1 L819.6,296.0 L821.3,295.6 L823.1,295.8 L824.8,295.5 L826.6,295.0 L828.4,294.5 L830.1,294.6 L831.5,294.5 L832.7,292.6 L834.0,290.1 L835.5,290.4 L837.3,290.4 L839.3,290.8 L841.5,290.8 L843.1,291.1 L844.9,291.7 L846.8,292.5 L848.6,292.5 L850.3,293.1 L851.6,293.9 L853.5,296.2 L854.9,297.1 L856.7,296.0 L858.8,295.4 L860.8,295.1 L862.6,296.0 L864.2,297.5 L865.8,299.8 L867.8,301.6 L870.0,303.3 L871.5,303.1 L873.1,302.9 L874.8,302.1 L876.7,302.3 L878.3,302.3 L879.9,302.8 L881.7,303.9 L883.4,304.7 L885.1,304.6 L886.8,304.3 L888.5,304.2 L890.3,304.1 L891.9,303.8 L893.5,303.2 L895.2,302.8 L896.6,302.6 L898.2,302.5 L900.2,301.8 L901.8,302.0 L903.6,302.5 L905.7,302.4 L907.7,303.2 L909.7,303.1 L911.4,303.5 L912.7,303.7 L913.4,302.8 L913.8,301.1 L914.1,299.3 L914.3,297.5 L914.3,295.4 L914.4,293.5 L914.6,291.5 L914.8,289.8 L915.2,288.1 L916.6,286.6 L918.3,285.7 L920.1,285.1 L921.9,285.4 L923.6,286.1 L925.3,287.1 L927.0,288.1 L928.6,289.4 L930.8,290.5 L932.8,291.6 L934.5,292.4 L935.5,290.6 L936.1,288.3 L937.0,286.8 L938.4,286.7 L940.1,287.7 L942.0,288.1 L943.6,289.1 L945.3,290.0 L947.1,290.6 L948.8,290.9 L950.6,291.9 L952.4,293.0 L954.1,294.4 L955.5,294.3 L957.1,292.7 L958.8,290.9 L960.2,291.0 L961.8,291.6 L963.6,291.6 L965.5,292.5 L967.3,292.5 L969.4,293.0 L971.4,293.4 L973.3,293.2 L974.7,294.0 L975.5,295.8 L975.7,297.2 L975.8,299.0 L976.4,300.5 L978.0,299.7 L980.1,299.4 L982.3,298.6 L984.1,299.3 L986.1,299.6 L988.1,300.4 L989.8,301.5 L991.7,301.9 L993.3,302.4 L994.8,302.8 L995.3,301.6 L995.7,299.8 L996.1,298.0 L996.5,295.9 L996.9,294.6 L997.3,292.8 L997.7,291.3 L998.2,289.5 L999.7,287.1 L1001.5,284.9 L1003.2,284.4 L1004.8,285.5 L1006.4,287.4 L1008.2,289.8 L1009.9,290.7 L1011.7,291.5 L1013.5,292.7 L1014.9,293.6 L1015.5,295.6 L1015.8,297.4 L1016.0,299.2 L1016.2,301.4 L1016.7,302.6 L1017.5,304.1 L1018.8,303.9 L1020.3,303.4 L1022.1,303.3 L1024.0,302.7 L1025.8,302.1 L1027.5,302.1 L1029.3,301.5 L1031.1,301.8 L1032.7,301.5 L1034.4,301.6 L1035.9,301.6 L1037.7,300.6 L1039.5,299.3 L1041.1,297.5 L1042.6,295.8 L1044.3,293.8 L1045.9,292.1 L1047.4,291.7 L1049.1,292.3 L1050.9,293.7 L1052.4,295.6 L1054.2,297.7 L1055.7,299.2 L1056.3,298.5 L1056.8,296.3 L1057.4,294.0 L1058.1,292.1 L1059.1,290.5 L1060.5,289.8 L1062.1,289.1 L1063.9,289.0 L1065.7,288.9 L1067.5,288.3 L1069.3,288.1 L1071.1,287.7 L1072.9,287.0 L1074.5,287.3 L1075.8,286.9 L1077.5,287.1 L1078.3,289.7 L1078.4,291.2 L1078.5,293.2 L1078.6,295.1 L1078.6,296.8 L1078.6,298.5 L1078.6,300.2 L1078.7,302.5 L1078.7,304.5 L1078.8,306.1 L1079.0,307.7 L1079.2,308.7 L1080.5,309.1 L1082.2,309.1 L1084.1,308.7 L1085.9,309.1 L1087.6,308.0 L1089.3,307.5 L1091.0,306.7 L1092.6,305.9 L1094.7,305.0 L1096.6,304.9 L1097.9,304.6" fill="none" stroke="#5ab5e6" stroke-width="1.7" stroke-linejoin="round" stroke-linecap="round"/>
<path d="M812.2,300.4 L813.7,299.8 L815.8,298.0 L818.0,296.7 L819.6,296.5 L821.3,296.3 L823.1,296.3 L824.8,296.5 L826.6,296.6 L828.5,297.3 L830.2,298.0 L831.5,298.1 L832.0,297.4 L832.2,295.5 L832.2,293.2 L832.5,290.5 L833.1,289.7 L834.3,290.0 L835.9,290.3 L837.6,291.2 L839.6,292.0 L841.5,292.6 L843.3,293.3 L845.3,294.3 L847.3,295.2 L849.3,296.6 L851.0,298.2 L852.4,299.6 L853.6,301.6 L854.0,303.5 L854.3,304.8 L854.9,306.3 L856.3,307.8 L858.0,309.2 L859.9,309.8 L861.5,309.3 L863.4,309.0 L865.1,308.8 L866.6,307.9 L868.3,307.8 L870.0,306.9 L871.4,306.5 L873.0,306.1 L874.8,306.3 L876.7,306.6 L878.2,306.7 L879.9,306.6 L881.5,307.2 L883.3,307.1 L885.1,306.9 L886.7,307.0 L888.4,306.4 L890.1,305.7 L891.8,305.0 L893.5,304.7 L895.1,304.1 L896.9,304.3 L898.5,304.4 L900.1,304.8 L901.7,304.7 L903.5,305.0 L905.2,305.1 L907.0,304.9 L909.0,304.9 L910.8,305.2 L912.4,305.0 L913.6,305.5 L914.1,304.1 L914.5,302.2 L914.7,300.3 L914.8,298.9 L914.9,296.6 L914.9,294.3 L915.0,292.2 L915.2,290.5 L915.6,290.0 L917.4,290.3 L919.6,290.9 L921.9,291.5 L923.6,291.5 L925.3,292.3 L927.0,292.8 L928.6,293.9 L930.5,295.4 L932.2,297.0 L933.7,297.0 L934.3,296.1 L934.7,294.1 L935.2,291.9 L935.8,289.1 L937.0,287.6 L938.3,287.5 L939.9,287.7 L941.7,288.9 L943.7,290.0 L945.6,290.9 L947.3,291.8 L948.8,292.4 L950.9,293.1 L952.7,293.8 L954.2,294.4 L955.5,295.2 L956.6,293.0 L958.8,290.8 L960.1,290.9 L961.8,290.7 L963.7,290.9 L965.8,291.2 L967.9,291.8 L970.0,292.1 L971.9,292.4 L973.5,293.4 L974.7,293.9 L975.4,295.8 L975.5,298.0 L975.7,299.5 L976.4,301.0 L977.7,301.0 L979.4,301.3 L981.4,301.1 L983.5,301.4 L985.6,301.3 L987.5,301.0 L989.0,301.4 L991.5,301.5 L993.2,302.7 L994.8,302.7 L995.5,301.2 L996.1,299.4 L996.6,297.8 L997.2,296.1 L997.7,293.3 L998.3,291.5 L999.0,290.2 L1000.7,288.7 L1002.6,287.7 L1004.9,287.7 L1006.4,288.1 L1008.2,289.4 L1010.2,290.3 L1012.0,292.0 L1013.7,293.1 L1014.9,294.2 L1015.5,296.1 L1015.7,298.0 L1015.8,299.6 L1015.8,301.8 L1016.0,303.0 L1016.6,304.6 L1017.9,304.8 L1019.6,305.0 L1021.6,304.9 L1023.7,304.7 L1025.7,304.6 L1027.5,304.5 L1029.4,304.8 L1031.3,304.3 L1033.0,304.6 L1034.6,303.8 L1035.9,303.3 L1037.3,301.5 L1038.2,299.7 L1039.2,297.9 L1040.8,297.2 L1042.6,297.3 L1044.3,296.9 L1046.7,297.4 L1049.0,297.9 L1050.7,297.9 L1052.5,297.6 L1054.0,297.3 L1055.5,299.4 L1056.6,301.1 L1057.0,299.7 L1057.4,298.0 L1057.8,295.7 L1058.3,293.6 L1059.1,291.9 L1060.4,292.1 L1062.0,293.0 L1063.8,293.8 L1065.8,294.3 L1067.4,294.9 L1069.2,296.0 L1071.1,296.3 L1072.9,296.8 L1074.5,297.5 L1075.8,298.7 L1077.2,300.9 L1077.8,302.6 L1078.3,304.2 L1078.9,306.7 L1080.0,308.3 L1081.6,307.9 L1083.7,306.6 L1085.9,305.8 L1087.6,305.4 L1089.3,305.9 L1091.0,305.9 L1092.6,305.2 L1094.7,305.1 L1096.6,304.0 L1097.9,303.7" fill="none" stroke="#1f6db3" stroke-width="1.7" stroke-linejoin="round" stroke-linecap="round"/>
<path d="M812.2,383.5 C812.9,385.2 815.0,390.8 816.4,393.6 C817.8,396.4 819.2,398.8 820.6,400.3 C822.0,401.8 823.4,402.8 824.8,402.8 C826.2,402.8 827.6,402.1 828.9,400.3 C830.1,398.5 831.4,395.5 832.3,391.9 C833.1,388.3 833.2,380.7 834.0,378.5 C834.8,378.5 836.0,378.5 837.3,378.5 C838.5,378.4 840.2,377.7 841.5,377.7 C842.8,378.0 843.8,379.2 844.9,380.2 C846.0,381.2 847.0,383.5 848.2,383.5 C849.5,383.4 851.1,380.7 852.4,379.3 C853.6,377.9 854.5,375.6 855.7,375.2 C857.0,375.2 858.6,376.0 859.9,376.8 C861.2,377.6 862.0,378.9 863.3,380.2 C864.6,381.5 866.2,383.8 867.5,384.4 C868.8,384.4 869.8,384.4 870.8,383.5 C871.8,382.5 872.4,380.7 873.4,378.5 C874.4,376.3 875.3,372.6 876.7,370.1 C878.1,367.6 880.0,364.9 881.7,363.4 C883.4,361.9 885.0,361.4 886.8,360.9 C888.6,360.3 891.5,360.1 892.6,360.1 C893.5,361.1 893.1,362.6 893.5,366.8 C893.9,371.0 894.0,381.0 895.1,385.2 C896.2,389.4 898.7,390.1 900.2,391.9 C901.7,393.7 902.9,395.8 904.3,396.1 C905.7,396.1 907.1,395.4 908.5,393.6 C909.9,391.8 911.3,387.9 912.7,385.2 C914.1,382.5 915.1,379.4 916.9,377.7 C918.7,376.0 921.6,375.2 923.6,375.2 C925.6,375.3 927.1,377.0 928.6,378.5 C930.1,380.0 931.5,384.1 932.8,384.4 C934.1,384.4 934.8,380.9 936.2,380.2 C937.6,380.2 939.5,380.2 941.2,380.2 C942.9,379.2 944.7,374.7 946.2,374.3 C947.7,374.3 948.9,377.1 950.4,377.7 C951.9,377.7 954.0,377.7 955.5,377.7 C957.0,378.2 958.4,380.9 959.6,381.0 C960.9,381.0 961.6,379.4 963.0,378.5 C964.4,377.6 966.5,375.6 968.0,375.5 C969.5,375.5 970.8,376.1 972.2,377.7 C973.6,379.3 975.3,382.0 976.4,385.2 C977.5,388.4 977.8,392.6 978.9,396.9 C980.0,401.2 981.7,408.0 983.1,411.2 C984.5,414.4 985.9,416.2 987.3,416.2 C988.7,416.2 990.2,414.1 991.5,411.2 C992.8,408.3 993.8,404.1 994.8,398.6 C995.8,393.2 996.6,384.1 997.3,378.5 C998.0,372.9 998.1,368.9 999.0,365.1 C999.9,361.3 1001.3,358.1 1002.4,355.9 C1003.5,353.7 1004.5,352.0 1005.7,352.0 C1007.0,352.0 1008.5,353.4 1009.9,355.9 C1011.3,358.4 1013.0,363.0 1014.1,366.8 C1015.2,370.6 1015.8,374.9 1016.6,378.5 C1017.4,382.1 1018.0,385.4 1019.1,388.6 C1020.2,391.8 1021.9,396.3 1023.3,397.8 C1024.7,397.8 1026.1,397.8 1027.5,397.8 C1028.9,396.9 1030.2,394.7 1031.7,392.7 C1033.2,390.7 1035.3,386.0 1036.7,386.0 C1038.1,386.4 1038.8,391.5 1040.1,395.3 C1041.4,399.1 1043.0,405.7 1044.3,408.7 C1045.5,411.7 1046.3,413.2 1047.6,413.3 C1048.8,413.3 1050.6,411.9 1051.8,409.5 C1053.0,407.1 1054.1,402.2 1054.9,398.6 C1055.7,395.0 1056.2,391.5 1056.6,387.7 C1057.0,383.9 1056.7,377.5 1057.4,376.0 C1058.1,376.0 1059.7,377.4 1060.8,378.5 C1061.9,379.6 1062.8,382.3 1064.1,382.7 C1065.3,382.7 1067.0,381.3 1068.3,381.0 C1069.5,381.0 1070.5,381.0 1071.6,381.0 C1072.7,381.4 1073.9,383.5 1075.0,383.5 C1076.1,383.1 1077.0,378.6 1078.3,378.5 C1079.5,378.5 1081.0,382.0 1082.5,382.7 C1084.0,382.7 1086.2,382.7 1087.6,382.7 C1089.0,382.0 1089.8,378.8 1090.9,378.5 C1092.0,378.5 1093.2,380.2 1094.3,381.0 C1095.4,381.8 1097.0,383.1 1097.6,383.5" fill="none" stroke="#1a1a1a" stroke-width="1.6" stroke-linejoin="round" stroke-linecap="round"/>
<path d="M812.2,384.4 L812.8,386.2 L813.7,388.0 L814.7,389.9 L815.8,391.6 L817.0,393.8 L818.0,395.0 L820.0,397.0 L821.9,398.4 L823.9,398.8 L826.0,398.8 L828.0,398.7 L829.8,397.2 L830.1,396.1 L830.4,394.8 L830.6,393.2 L830.9,391.1 L831.1,389.4 L831.3,387.4 L831.5,385.6 L831.7,383.9 L831.9,381.7 L832.1,379.7 L832.3,378.1 L832.5,376.2 L832.7,374.5 L832.9,373.6 L833.1,373.0 L834.7,373.8 L836.5,375.7 L837.6,377.2 L838.9,378.7 L840.2,380.5 L841.5,382.1 L842.5,383.6 L843.5,385.6 L844.5,387.2 L845.5,388.8 L846.5,390.3 L848.3,390.4 L850.1,390.2 L851.6,389.3 L851.9,388.3 L852.1,386.9 L852.4,385.5 L852.6,383.6 L852.7,381.9 L852.9,380.3 L853.1,377.8 L853.2,376.0 L853.4,374.4 L853.6,372.6 L853.8,371.2 L854.1,370.6 L856.0,368.6 L858.3,368.5 L859.5,369.5 L860.6,371.9 L861.9,374.6 L863.3,376.3 L864.9,377.3 L866.7,378.8 L868.5,379.8 L870.0,380.4 L871.6,379.2 L872.8,377.0 L874.2,374.7 L875.4,372.6 L876.6,370.2 L877.9,368.5 L879.2,366.8 L881.1,367.2 L883.0,367.6 L885.1,368.7 L886.8,369.0 L888.6,370.2 L890.3,371.0 L891.8,372.2 L892.4,373.6 L892.9,375.4 L893.3,377.1 L893.7,379.3 L894.1,381.4 L894.5,383.6 L895.1,385.0 L896.4,387.1 L897.9,388.8 L899.5,390.7 L901.0,392.3 L902.8,393.2 L904.4,393.4 L906.0,393.8 L908.1,393.3 L910.2,390.9 L910.9,389.3 L911.5,387.9 L912.2,386.1 L912.9,383.9 L913.6,381.7 L914.4,380.0 L915.2,378.3 L916.8,377.8 L918.5,377.1 L920.3,377.0 L921.9,377.2 L923.7,377.9 L925.4,378.7 L927.0,380.2 L928.0,382.0 L929.1,384.0 L930.1,386.9 L931.1,388.6 L932.0,389.7 L932.4,388.6 L932.8,387.3 L933.1,385.4 L933.4,383.4 L933.7,381.0 L934.0,378.5 L934.3,376.8 L934.6,374.8 L935.0,373.2 L935.4,372.2 L936.9,372.7 L938.7,373.7 L940.4,375.2 L942.1,376.7 L943.7,378.2 L945.4,380.6 L946.7,382.6 L948.0,384.2 L949.3,386.6 L950.4,388.2 L952.3,388.2 L953.8,386.9 L954.1,386.0 L954.2,384.4 L954.4,381.9 L954.5,379.4 L954.7,377.9 L954.8,375.9 L955.0,373.6 L955.2,371.7 L955.5,370.4 L957.3,370.4 L959.6,370.9 L960.7,372.1 L961.8,373.7 L963.0,376.4 L964.2,378.7 L965.5,380.1 L967.1,382.3 L968.8,383.9 L970.5,385.6 L972.2,387.3 L973.5,389.1 L974.9,391.0 L976.2,392.9 L977.6,394.1 L978.9,395.6 L980.6,396.8 L982.4,397.9 L984.0,398.4 L985.6,399.0 L987.4,398.8 L989.1,398.1 L990.6,396.6 L991.5,395.3 L992.4,394.1 L993.3,392.2 L994.1,390.5 L994.8,388.1 L995.1,386.9 L995.4,385.5 L995.6,384.0 L995.8,382.6 L996.0,380.2 L996.3,378.8 L996.5,377.0 L996.8,375.4 L997.1,374.1 L997.4,373.0 L998.4,370.2 L999.6,368.1 L1001.0,367.1 L1002.4,365.8 L1004.0,366.3 L1005.7,367.3 L1007.4,367.9 L1009.1,369.2 L1011.2,370.4 L1013.2,371.8 L1014.9,373.6 L1015.4,375.3 L1015.7,376.7 L1016.0,378.4 L1016.2,380.6 L1016.4,381.9 L1016.7,384.0 L1017.0,385.7 L1017.5,386.9 L1019.2,389.6 L1021.2,390.9 L1023.3,391.9 L1024.9,392.4 L1026.6,392.9 L1028.3,392.6 L1030.0,392.6 L1031.4,391.3 L1032.8,389.4 L1034.2,387.5 L1035.5,385.3 L1036.7,384.7 L1038.2,385.4 L1039.4,387.5 L1040.9,389.2 L1042.4,390.5 L1044.1,392.1 L1045.9,393.1 L1047.6,394.1 L1049.7,394.6 L1051.8,395.0 L1053.5,395.1 L1053.9,394.2 L1054.2,393.0 L1054.5,391.5 L1054.8,388.9 L1055.0,387.1 L1055.3,385.3 L1055.5,383.1 L1055.8,380.6 L1056.1,378.8 L1056.4,377.1 L1056.8,376.1 L1058.5,377.2 L1060.5,378.4 L1062.4,379.5 L1064.0,380.5 L1065.6,381.6 L1067.5,382.4 L1069.3,383.2 L1071.3,384.3 L1073.3,385.2 L1075.0,385.5 L1076.2,384.2 L1077.2,381.5 L1078.1,379.3 L1079.2,377.7 L1080.7,378.2 L1082.4,378.2 L1084.2,378.5 L1085.9,378.6 L1087.6,379.1 L1089.4,379.6 L1091.0,379.6 L1092.6,379.4 L1094.6,379.9 L1096.4,380.4 L1097.6,380.2" fill="none" stroke="#5ab5e6" stroke-width="1.7" stroke-linejoin="round" stroke-linecap="round"/>
<path d="M812.2,383.5 L813.5,384.5 L815.3,386.6 L817.3,388.7 L819.5,390.6 L821.4,391.9 L823.2,392.1 L825.1,391.2 L826.8,390.7 L828.5,389.4 L829.8,388.0 L830.6,387.1 L831.2,385.3 L831.7,383.7 L832.1,381.5 L832.6,379.3 L833.1,378.2 L834.9,378.7 L837.3,379.6 L839.0,380.2 L840.9,380.2 L843.0,380.2 L844.9,379.9 L846.7,379.9 L848.4,379.2 L850.1,378.5 L851.6,377.8 L853.3,377.0 L854.7,376.8 L856.6,376.2 L858.1,376.9 L859.8,376.6 L861.6,377.3 L863.4,377.1 L865.0,377.1 L866.8,378.2 L868.6,378.8 L870.2,379.8 L871.7,379.9 L873.4,379.2 L874.8,378.8 L876.7,378.6 L878.2,379.0 L879.8,379.3 L881.6,379.2 L883.4,379.8 L885.1,380.4 L886.9,380.7 L888.7,381.5 L890.5,381.6 L892.1,382.5 L893.5,383.2 L895.3,384.6 L896.8,386.4 L898.2,387.6 L899.9,388.7 L901.7,388.9 L903.5,389.1 L905.2,388.9 L907.0,387.6 L908.6,386.7 L910.2,385.3 L911.5,383.2 L912.6,381.2 L913.8,379.6 L915.2,378.4 L916.7,378.6 L918.3,378.3 L920.1,378.8 L921.9,378.8 L923.6,379.4 L925.3,380.5 L927.1,381.9 L928.9,383.4 L930.5,384.9 L932.0,385.7 L932.9,384.9 L933.6,383.1 L934.2,380.6 L934.8,378.0 L935.4,376.4 L936.1,374.8 L937.0,374.0 L938.5,374.0 L940.1,374.9 L941.9,376.4 L943.7,377.6 L945.4,378.2 L947.1,378.2 L948.8,378.2 L950.4,378.6 L952.1,378.4 L953.8,378.7 L955.5,379.0 L957.1,379.7 L958.7,380.1 L960.4,380.1 L962.2,379.8 L963.8,379.9 L965.5,380.1 L967.2,380.3 L968.9,380.7 L970.6,381.2 L972.2,380.9 L973.7,382.6 L975.2,384.6 L976.6,387.0 L978.0,389.0 L979.3,390.5 L980.6,392.2 L982.4,393.4 L984.1,393.8 L985.7,394.2 L987.3,393.8 L989.0,393.2 L990.8,393.0 L992.5,392.3 L994.0,390.1 L994.5,389.2 L994.9,388.0 L995.3,385.9 L995.6,384.1 L996.0,382.3 L996.3,380.2 L996.7,377.9 L997.0,375.9 L997.4,374.5 L997.8,373.3 L998.2,371.9 L1000.0,368.8 L1001.9,368.1 L1004.0,367.9 L1005.7,367.8 L1007.5,368.4 L1009.2,369.6 L1010.8,370.7 L1012.7,371.7 L1014.4,373.1 L1015.8,375.4 L1016.2,376.6 L1016.5,378.3 L1016.7,380.3 L1016.9,382.8 L1017.2,384.7 L1017.6,386.5 L1018.3,387.6 L1019.7,387.5 L1021.5,387.0 L1023.6,386.3 L1025.6,386.5 L1027.5,385.9 L1029.3,385.1 L1031.0,384.7 L1032.7,384.4 L1034.3,383.5 L1035.9,383.5 L1037.7,384.5 L1039.4,386.5 L1041.0,388.2 L1042.6,389.5 L1044.5,391.3 L1046.4,392.1 L1048.4,392.1 L1050.3,391.6 L1052.3,390.5 L1054.2,389.5 L1055.7,387.7 L1056.2,386.5 L1056.5,384.5 L1056.6,382.3 L1056.7,380.3 L1056.9,378.1 L1057.4,376.5 L1058.7,376.9 L1060.4,378.1 L1062.3,379.3 L1064.1,380.2 L1065.8,380.6 L1067.6,381.1 L1069.2,381.0 L1070.8,381.4 L1072.7,382.2 L1074.3,382.3 L1075.8,382.8 L1076.9,381.2 L1077.8,378.7 L1079.2,377.9 L1080.6,377.8 L1082.4,378.5 L1084.2,379.4 L1086.1,380.4 L1087.6,380.6 L1089.5,379.9 L1091.1,379.0 L1092.6,378.2 L1094.5,379.4 L1096.3,380.8 L1097.6,381.0" fill="none" stroke="#1f6db3" stroke-width="1.7" stroke-linejoin="round" stroke-linecap="round"/>
</svg></body></html>
